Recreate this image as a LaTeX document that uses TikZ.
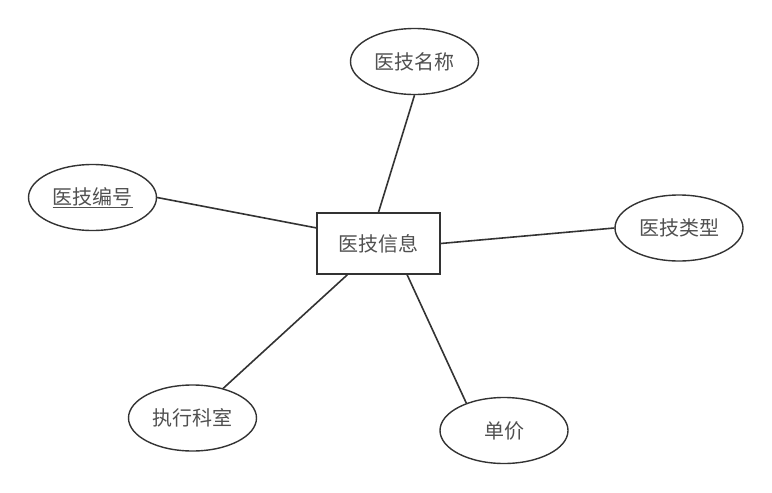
\documentclass[tikz,border=0pt]{standalone}
\usepackage{fontspec}
\newfontfamily\cjk{Noto Sans CJK SC}
\usetikzlibrary{shapes.geometric, calc}

\definecolor{linegray}{HTML}{333333}
\definecolor{textgray}{HTML}{505050}

\begin{document}
\begin{tikzpicture}[x=1pt, y=-1pt,
    attr/.style={ellipse, draw=linegray, line width=1.4pt, minimum width=128pt, minimum height=66pt,
                 inner sep=0pt, text=textgray, font=\cjk\fontsize{20}{22}\selectfont},
    entity/.style={rectangle, draw=linegray, line width=1.4pt, minimum width=123pt, minimum height=61pt,
                   inner sep=0pt, text=textgray, font=\cjk\fontsize{20}{22}\selectfont},
    link/.style={draw=linegray, line width=1.6pt}]
           \useasboundingbox (0,0) rectangle (772,493);
           \node[entity] (info)  at (378.5,243.5) {医技信息};
           \node[attr]   (name)  at (414.5,61.5)  {医技名称};
           \node[attr]   (num)   at (92.5,197.5)  {\underline{医技编号}};
           \node[attr]   (type)  at (679,228)     {医技类型};
           \node[attr]   (dept)  at (192.5,418)   {执行科室};
           \node[attr]   (price) at (504,430.5)   {单价};
           \draw[link] (info.north) -- (name.south);
           \draw[link] ($(info.north west)!0.25!(info.south west)$) -- (num.east);
           \draw[link] (info.east) -- (type.west);
           \draw[link] ($(info.south west)!0.25!(info.south east)$) -- (dept.44);
           \draw[link] ($(info.south west)!0.73!(info.south east)$) -- (price.144);
        \end{tikzpicture}
\end{document}
